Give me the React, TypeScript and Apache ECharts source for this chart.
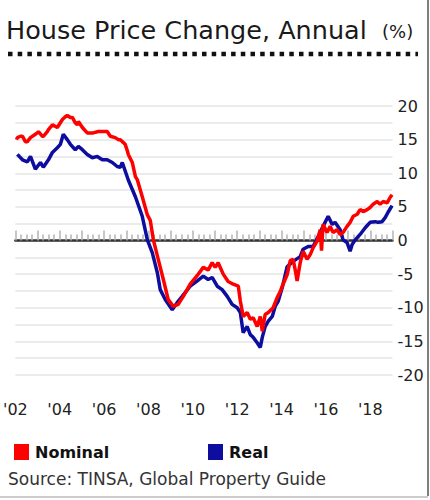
import React, { useEffect, useRef } from "react";
import * as echarts from "echarts";

const FONT = "'DejaVu Sans', Verdana, sans-serif";

const nominalDates = [2002.05, 2002.09, 2002.23, 2002.32, 2002.45, 2002.54, 2002.68, 2002.9, 2002.99, 2003.04, 2003.22, 2003.26, 2003.44, 2003.49, 2003.67, 2003.89, 2004.12, 2004.25, 2004.34, 2004.48, 2004.57, 2004.7, 2004.79, 2004.84, 2005.02, 2005.24, 2005.51, 2005.74, 2005.96, 2006.14, 2006.28, 2006.5, 2006.64, 2006.73, 2006.82, 2006.95, 2007.05, 2007.09, 2007.27, 2007.41, 2007.5, 2007.72, 2007.95, 2008.08, 2008.22, 2008.44, 2008.67, 2008.89, 2009.12, 2009.34, 2009.57, 2009.88, 2010.2, 2010.47, 2010.69, 2010.87, 2011.01, 2011.14, 2011.37, 2011.59, 2011.82, 2012.05, 2012.14, 2012.27, 2012.45, 2012.59, 2012.72, 2012.9, 2013.04, 2013.13, 2013.26, 2013.4, 2013.62, 2013.8, 2013.94, 2014.03, 2014.25, 2014.39, 2014.52, 2014.61, 2014.7, 2014.84, 2014.97, 2015.15, 2015.29, 2015.42, 2015.6, 2015.74, 2015.8, 2015.87, 2016.05, 2016.19, 2016.32, 2016.5, 2016.64, 2016.77, 2016.95, 2017.09, 2017.23, 2017.41, 2017.54, 2017.68, 2017.86, 2017.99, 2018.13, 2018.31, 2018.44, 2018.58, 2018.76, 2018.89, 2018.98];
const nominalValues = [15.0, 15.3, 15.5, 15.5, 14.7, 14.7, 15.3, 15.8, 16.0, 16.2, 15.5, 15.5, 16.2, 16.5, 17.2, 16.8, 18.0, 18.4, 18.6, 18.3, 18.3, 17.5, 17.2, 17.7, 16.8, 16.0, 16.0, 16.2, 16.2, 16.2, 15.5, 15.3, 15.0, 15.0, 14.7, 14.3, 13.3, 12.8, 11.6, 9.5, 9.0, 6.5, 3.8, 3.0, 0.1, -2.8, -5.8, -8.8, -9.8, -9.5, -8.3, -6.5, -5.2, -4.0, -4.4, -3.3, -4.0, -3.3, -5.0, -6.1, -6.5, -6.8, -9.0, -11.3, -10.7, -11.7, -11.5, -12.8, -11.3, -13.5, -11.0, -10.7, -10.0, -8.5, -7.6, -6.8, -5.1, -3.0, -2.8, -4.3, -6.0, -3.3, -1.6, -2.8, -2.1, -1.1, -0.1, 1.6, -1.5, 2.4, 1.2, 2.1, 1.2, 1.6, 0.9, 1.2, 2.1, 2.7, 3.6, 3.9, 4.6, 4.3, 4.6, 4.9, 5.4, 5.8, 5.4, 5.8, 5.6, 6.4, 6.8];

const realDates = [2002.09, 2002.32, 2002.54, 2002.68, 2002.9, 2003.13, 2003.26, 2003.49, 2003.67, 2003.89, 2004.03, 2004.16, 2004.34, 2004.48, 2004.7, 2004.84, 2005.02, 2005.24, 2005.47, 2005.69, 2005.92, 2006.14, 2006.37, 2006.59, 2006.73, 2006.82, 2007.09, 2007.41, 2007.72, 2007.95, 2008.17, 2008.4, 2008.53, 2008.76, 2009.07, 2009.3, 2009.52, 2009.88, 2010.2, 2010.47, 2010.69, 2010.87, 2011.1, 2011.32, 2011.55, 2011.77, 2012.0, 2012.14, 2012.27, 2012.45, 2012.59, 2012.72, 2012.9, 2013.04, 2013.13, 2013.26, 2013.4, 2013.58, 2013.71, 2013.85, 2014.03, 2014.25, 2014.52, 2014.84, 2014.97, 2015.2, 2015.42, 2015.65, 2015.87, 2016.1, 2016.28, 2016.41, 2016.64, 2016.77, 2016.95, 2017.09, 2017.18, 2017.32, 2017.54, 2017.77, 2017.99, 2018.22, 2018.35, 2018.53, 2018.67, 2018.8, 2018.98];
const realValues = [12.8, 12.0, 11.7, 12.5, 10.6, 11.6, 10.9, 12.0, 13.1, 13.8, 14.3, 15.8, 15.0, 14.3, 13.5, 14.0, 13.5, 12.8, 12.3, 12.5, 12.0, 12.0, 11.6, 11.0, 10.9, 11.6, 9.0, 6.5, 3.6, 0.1, -1.8, -4.8, -7.3, -8.8, -10.3, -9.2, -8.3, -6.8, -6.0, -5.3, -5.8, -5.5, -6.8, -7.3, -8.3, -9.5, -10.0, -10.7, -13.7, -12.8, -14.0, -14.4, -15.2, -15.9, -14.4, -12.8, -12.0, -11.3, -9.8, -9.0, -7.0, -3.9, -3.1, -2.4, -1.3, -0.9, -0.9, 0.6, 2.1, 3.6, 2.4, 2.7, 1.6, 0.1, -0.3, -1.6, -0.6, 0.1, 0.9, 1.9, 2.7, 2.8, 2.7, 2.8, 3.4, 4.2, 5.2];

const yTickValues = [-20, -15, -10, -5, 0, 5, 10, 15, 20];
const xLabelYears = [2002, 2004, 2006, 2008, 2010, 2012, 2014, 2016, 2018];

const titleText = "House Price Change, Annual";
const unitText = "(%)";
const sourceText = "Source: TINSA, Global Property Guide";

const RED = "#ff0000";
const BLUE = "#0d0d9e";

export default function App() {
  const ref = useRef<HTMLDivElement>(null);
  useEffect(() => {
    const chart = echarts.init(ref.current!, undefined, { renderer: "svg" });
    const nominal = nominalDates.map((d, i) => [d, nominalValues[i]]);
    const real = realDates.map((d, i) => [d, realValues[i]]);
    chart.setOption({
      animation: false,
      backgroundColor: "#ffffff",
      textStyle: { fontFamily: FONT },
      grid: { left: 15, right: 37.5, top: 106, bottom: 125, containLabel: false },
      xAxis: [
        {
          type: "value",
          min: 2002,
          max: 2019,
          interval: 1,
          axisLine: { show: true, onZero: true, lineStyle: { color: "#333333", width: 2.5 } },
          axisTick: { show: true, inside: true, length: 10, lineStyle: { color: "#b3b3b3", width: 1.5 } },
          minorTick: { show: true, splitNumber: 4, length: 6, lineStyle: { color: "#b3b3b3", width: 1.5 } },
          axisLabel: { show: false },
          splitLine: { show: false },
        },
        {
          type: "value",
          position: "bottom",
          min: 2002,
          max: 2019,
          interval: 2,
          axisLine: { show: false, onZero: false },
          axisTick: { show: false },
          splitLine: { show: false },
          axisLabel: {
            margin: 26,
            fontSize: 16,
            color: "#222222",
            fontFamily: FONT,
            showMaxLabel: false,
            formatter: (v: number) =>
              xLabelYears.includes(v) ? "'" + String(v % 100).padStart(2, "0") : "",
          },
        },
      ],
      yAxis: {
        type: "value",
        position: "right",
        min: -20,
        max: 20,
        interval: 2.5,
        axisLine: { show: false },
        axisTick: { show: false },
        splitLine: { show: true, lineStyle: { color: "#e4e4e4", width: 1.5 } },
        axisLabel: {
          margin: 5,
          fontSize: 16,
          color: "#222222",
          fontFamily: FONT,
          formatter: (v: number) => (yTickValues.includes(v) ? String(v) : ""),
        },
      },
      legend: [
        {
          data: ["Nominal"],
          left: 9,
          top: 439,
          icon: "rect",
          itemWidth: 15,
          itemHeight: 16,
          itemGap: 0,
          textStyle: { fontSize: 16, fontWeight: "bold", color: "#111111", fontFamily: FONT, padding: [0, 0, 0, 1] },
        },
        {
          data: ["Real"],
          left: 203,
          top: 439,
          icon: "rect",
          itemWidth: 15,
          itemHeight: 16,
          itemGap: 0,
          textStyle: { fontSize: 16, fontWeight: "bold", color: "#111111", fontFamily: FONT, padding: [0, 0, 0, 1] },
        },
      ],
      graphic: [
        {
          type: "text",
          left: 6,
          top: 17,
          style: { text: titleText, fontSize: 25.5, fontFamily: FONT, fill: "#1a1a1a" },
        },
        {
          type: "text",
          left: 382,
          top: 22,
          style: { text: unitText, fontSize: 18, fontFamily: FONT, fill: "#1a1a1a" },
        },
        {
          type: "line",
          shape: { x1: 8, y1: 54, x2: 418, y2: 54 },
          style: { stroke: "#111111", lineWidth: 4.5, lineDash: [4.5, 5.2] },
        },
        {
          type: "text",
          left: 8,
          top: 470,
          style: { text: sourceText, fontSize: 17, fontFamily: FONT, fill: "#333333" },
        },
        {
          type: "line",
          shape: { x1: 428, y1: 0, x2: 428, y2: 496 },
          style: { stroke: "#555555", lineWidth: 1.5 },
        },
        {
          type: "line",
          shape: { x1: 0, y1: 497, x2: 428, y2: 497 },
          style: { stroke: "#cccccc", lineWidth: 2 },
        },
      ],
      series: [
        {
          name: "Real",
          type: "line",
          xAxisIndex: 0,
          data: real,
          showSymbol: false,
          symbol: "none",
          lineStyle: { color: BLUE, width: 3.5 },
          itemStyle: { color: BLUE },
          z: 3,
        },
        {
          name: "Nominal",
          type: "line",
          xAxisIndex: 0,
          data: nominal,
          showSymbol: false,
          symbol: "none",
          lineStyle: { color: RED, width: 3.5 },
          itemStyle: { color: RED },
          z: 4,
        },
      ],
    });
    return () => chart.dispose();
  }, []);
  return (
    <div
      ref={ref}
      style={{ position: "fixed", left: 0, top: 0, width: 430, height: 500, background: "#fff" }}
    />
  );
}
